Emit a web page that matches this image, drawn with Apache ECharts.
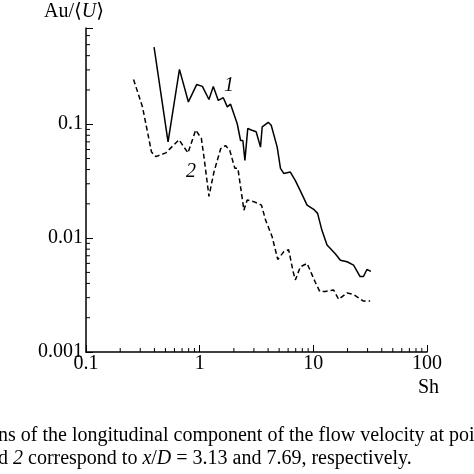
<!DOCTYPE html>
<html>
<head>
<meta charset="utf-8">
<script src="https://cdn.jsdelivr.net/npm/echarts@6/dist/echarts.min.js"></script>
<style>html,body{margin:0;background:#fff}</style>
</head>
<body>
<div id="main" style="width:474px;height:474px;"></div>
<script>
var sh1 = [0.397,0.527,0.664,0.796,0.941,1.056,1.207,1.318,1.459,1.614,1.75,1.87,2.14,2.29,2.40,2.50,2.65,2.84,3.14,3.43,3.55,4.01,4.26,4.81,5.14,5.49,6.28,6.95,7.69,8.81,10.07,10.9,11.9,13.2,15.6,17.3,19.8,22.6,25.8,27.6,29.6,32.1];
var au1 = [0.476,0.070,0.303,0.157,0.223,0.215,0.165,0.215,0.162,0.171,0.142,0.150,0.101,0.072,0.072,0.048,0.092,0.089,0.086,0.063,0.095,0.104,0.098,0.063,0.041,0.037,0.038,0.032,0.026,0.0195,0.0179,0.0165,0.0117,0.0087,0.0073,0.0064,0.0062,0.0058,0.0046,0.0046,0.0053,0.0051];
var sh2 = [0.262,0.314,0.377,0.411,0.503,0.658,0.789,0.923,1.035,1.09,1.207,1.335,1.53,1.69,1.84,2.04,2.17,2.29,2.45,2.62,2.99,3.50,3.80,4.34,4.86,5.49,6.07,6.63,6.95,7.69,8.81,10.4,11.4,12.7,15.1,16.7,19.8,22.6,27.6,31.6];
var au2 = [0.247,0.142,0.057,0.052,0.056,0.073,0.056,0.089,0.075,0.052,0.0233,0.038,0.061,0.065,0.059,0.041,0.041,0.0282,0.0176,0.0216,0.0209,0.0195,0.0144,0.0103,0.0065,0.0076,0.0079,0.0051,0.0043,0.0056,0.0060,0.0041,0.0034,0.0034,0.0035,0.0029,0.0033,0.0032,0.0028,0.0028];
var xDecades = [0.1, 1, 10];
var yDecades = [0.001, 0.01, 0.1];
var yLabels = ['0.001', '0.01', '0.1'];

function zip(a, b) { return a.map(function (v, i) { return [v, b[i]]; }); }

// minor tick positions (2..9 within each decade)
var xMinor = [], yMinor = [];
xDecades.forEach(function (d) { for (var k = 2; k <= 9; k++) xMinor.push(d * k); });
yDecades.forEach(function (d) { for (var k = 2; k <= 9; k++) if (d * k <= 0.7) yMinor.push(d * k); });

var font = '"Liberation Serif", "DejaVu Serif", serif';
var myChart = echarts.init(document.getElementById('main'));

myChart.setOption({
  animation: false,
  grid: { left: 86, right: 47, top: 28, bottom: 122 },
  xAxis: {
    type: 'log', min: 0.1, max: 100, logBase: 10,
    axisLine: { lineStyle: { color: '#000', width: 1.5 } },
    axisTick: { inside: true, length: 7, lineStyle: { color: '#000' } },
    axisLabel: { color: '#000', fontFamily: font, fontSize: 20, margin: 2 },
    splitLine: { show: false }
  },
  yAxis: {
    type: 'log', min: 0.001, max: 0.7, logBase: 10,
    axisLine: { lineStyle: { color: '#000', width: 1.5 } },
    axisTick: { inside: true, length: 7, lineStyle: { color: '#000' } },
    axisLabel: {
      color: '#000', fontFamily: font, fontSize: 20, margin: 3,
      formatter: function (v) {
        var i = yDecades.findIndex(function (d) { return Math.abs(d - v) / d < 1e-6; });
        return i >= 0 ? yLabels[i] : '';
      }
    },
    splitLine: { show: false }
  },
  series: [
    { type: 'line', data: zip(sh1, au1), showSymbol: false, lineStyle: { color: '#000', width: 1.5 } },
    { type: 'line', data: zip(sh2, au2), showSymbol: false, lineStyle: { color: '#000', width: 1.5, type: [5, 3] } },
    {
      type: 'custom', silent: true,
      data: xMinor.map(function (v) { return [v, 0.001]; }),
      renderItem: function (p, api) {
        var c = api.coord([api.value(0), api.value(1)]);
        return { type: 'line', shape: { x1: c[0], y1: c[1], x2: c[0], y2: c[1] - 4 }, style: { stroke: '#000', lineWidth: 1 } };
      }
    },
    {
      type: 'custom', silent: true,
      data: yMinor.map(function (v) { return [0.1, v]; }),
      renderItem: function (p, api) {
        var c = api.coord([api.value(0), api.value(1)]);
        return { type: 'line', shape: { x1: c[0], y1: c[1], x2: c[0] + 4, y2: c[1] }, style: { stroke: '#000', lineWidth: 1 } };
      }
    }
  ],
  graphic: [
    { type: 'text', left: 44, top: 2, style: { rich: { n: { font: '20px ' + font, fill: '#000' }, i: { font: 'italic 20px ' + font, fill: '#000' } },
      text: '{n|Au/\u27E8}{i|U}{n|\u27E9}' } },
    { type: 'text', left: 418, top: 378, style: { text: 'Sh', font: '20px ' + font, fill: '#000' } },
    { type: 'text', left: 224, top: 76, style: { text: '1', font: 'italic 20px ' + font, fill: '#000' } },
    { type: 'text', left: 186, top: 162, style: { text: '2', font: 'italic 20px ' + font, fill: '#000' } },
    { type: 'text', left: -2, top: 426, style: { text: 'ns of the longitudinal component of the flow velocity at points', font: '20px ' + font, fill: '#000' } },
    { type: 'text', left: -2, top: 449, style: { rich: { n: { font: '20px ' + font, fill: '#000' }, i: { font: 'italic 20px ' + font, fill: '#000' } },
      text: '{n|d }{i|2}{n| correspond to }{i|x}{n|/}{i|D}{n| = 3.13 and 7.69, respectively.}' } }
  ]
});
</script>
</body>
</html>
